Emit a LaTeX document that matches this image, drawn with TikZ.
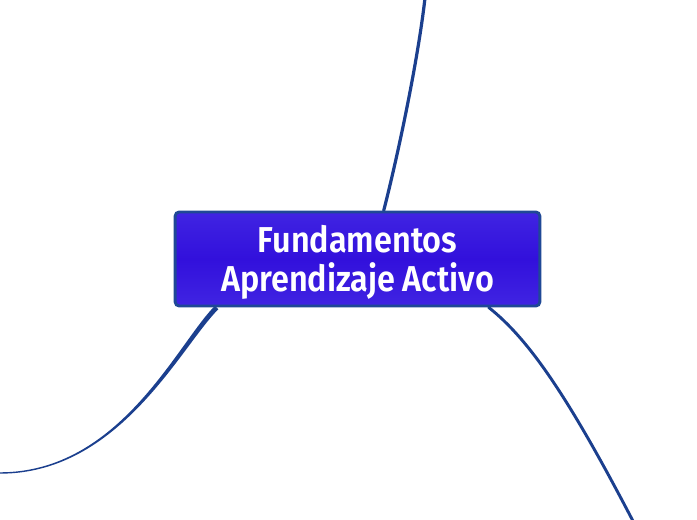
\documentclass[tikz,border=0pt]{standalone}
\usepackage{fontspec}
\setmainfont{Fira Sans}[BoldFont={Fira Sans SemiBold}, FakeStretch=0.9]
\usetikzlibrary{calc,backgrounds}
\definecolor{connblue}{HTML}{1B3F8E}
\definecolor{nodefill}{HTML}{3210DC}
\definecolor{nodelight}{HTML}{4024E2}
\definecolor{nodeborder}{HTML}{1F4896}
\tikzset{
  conn/.style={draw=connblue, line width=2.4pt, line cap=round},
  taper/.style={fill=connblue},
  topic/.style={draw=nodeborder, line width=2.2pt, rounded corners=3pt,
    top color=nodelight, bottom color=nodelight, middle color=nodefill,
    minimum width=273.5pt, minimum height=70.5pt, inner sep=0pt},
  topictext/.style={inner sep=0pt, text=white,
    font=\fontsize{27pt}{29.3pt}\selectfont\bfseries, align=center}
}
\begin{document}
\begin{tikzpicture}[x=0.75pt,y=-0.75pt]
\useasboundingbox (0,0) rectangle (697,520);
\node[topic] (c) at (357.5,259) {};
\node[topictext] (t) at ($(c.center)+(0,3)$) {Fundamentos\\Aprendizaje Activo};
\coordinate (top) at (425,-2);
\coordinate (left) at (0,473);
\coordinate (right) at (634,523);
\coordinate (at) at ($(c.north west)+(210,0)$);
\coordinate (al) at ($(c.south west)+(43,0)$);
\coordinate (ar) at ($(c.south west)+(315,0)$);
\begin{scope}[on background layer]
\clip (0,0) rectangle (697,520);
\draw[conn] (at) .. controls (398,155) and (418,60) .. (top);
\draw[conn, line width=2.2pt] (ar) .. controls (530,340) and (570,400) .. (right);
\fill[taper] ($(al)+(-1.7,-1.7)$) .. controls (177.3,343.3) and (120,472.3) .. ($(left)+(0,-0.7)$)
  -- ($(left)+(0,0.7)$) .. controls (120,473.7) and (180.7,346.7) .. ($(al)+(1.7,1.7)$) -- cycle;
\end{scope}
\end{tikzpicture}
\end{document}
